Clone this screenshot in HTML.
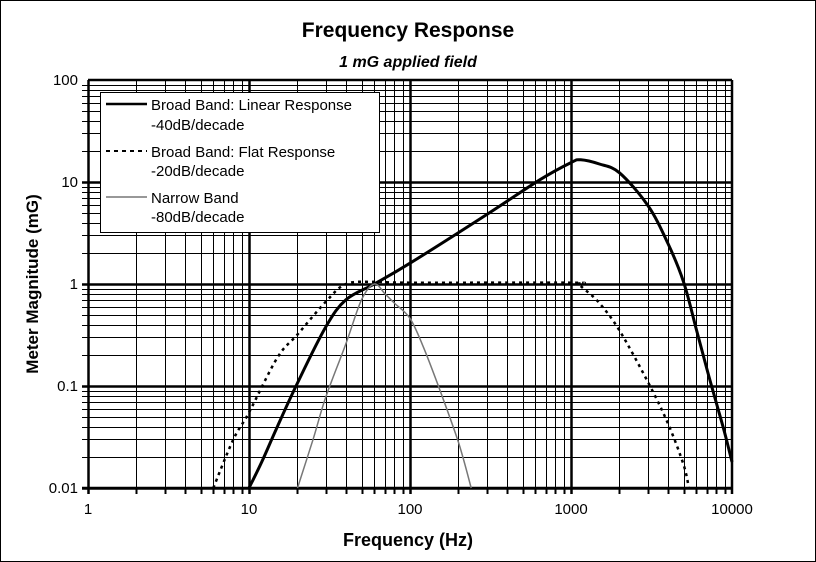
<!DOCTYPE html>
<html><head><meta charset="utf-8"><style>
body{margin:0;background:#fff}
svg{display:block;font-family:"Liberation Sans",Arial,sans-serif}
</style></head><body>
<svg id="chart" width="816" height="562" viewBox="0 0 816 562">
<rect x="0.5" y="0.5" width="815" height="561" fill="#fff" stroke="#000"/>
<text x="408" y="37" text-anchor="middle" font-size="21" font-weight="bold">Frequency Response</text>
<text x="408" y="67" text-anchor="middle" font-size="16" font-weight="bold" font-style="italic">1 mG applied field</text>
<g id="grid"></g>
<g id="ticks"></g>
<g id="series"></g>
<text x="408" y="546" text-anchor="middle" font-size="18" font-weight="bold">Frequency (Hz)</text>
<text transform="translate(38,284) rotate(-90)" text-anchor="middle" font-size="17" font-weight="bold">Meter Magnitude (mG)</text>
<g>
<rect x="100.5" y="92.5" width="279" height="140" fill="#fff" stroke="#000"/>
<line x1="106" y1="104" x2="147" y2="104" stroke="#000" stroke-width="2.5"/>
<text x="151" y="110" font-size="15">Broad Band: Linear Response</text>
<text x="151" y="130" font-size="15">-40dB/decade</text>
<line x1="106" y1="151" x2="147" y2="151" stroke="#000" stroke-width="2" stroke-dasharray="4,4"/>
<text x="151" y="157" font-size="15">Broad Band:  Flat Response</text>
<text x="151" y="176" font-size="15">-20dB/decade</text>
<line x1="106" y1="197" x2="147" y2="197" stroke="#777" stroke-width="1.5"/>
<text x="151" y="203" font-size="15">Narrow Band</text>
<text x="151" y="222" font-size="15">-80dB/decade</text>
</g>
</svg>
<script>
const xTicks=[1,10,100,1000,10000];
const xTickLabels=["1","10","100","1000","10000"];
const yTicks=[0.01,0.1,1,10,100];
const yTickLabels=["0.01","0.1","1","10","100"];
const linearFreq=[10,12,15,20,30,40,60,100,300,640,1000,1150,1500,2000,3000,4000,5000,6000,7000,8000,9000,10000];
const linearVal=[0.01,0.018,0.04,0.107,0.38,0.7,1.0,1.6,4.8,10.5,15.5,16.5,15,12.3,5.9,2.5,1.05,0.36,0.144,0.068,0.035,0.018];
const flatFreq=[6,8,10,15,20,30,40,60,100,1000,1100,1200,1500,2000,3000,4000,5000,5400];
const flatVal=[0.01,0.03,0.055,0.19,0.32,0.67,1.0,1.05,1.03,1.03,1.0,0.9,0.65,0.35,0.11,0.043,0.017,0.01];
const narrowFreq=[20,25,30,40,50,60,70,80,100,120,150,200,240];
const narrowVal=[0.01,0.03,0.078,0.26,0.7,1.0,0.8,0.65,0.46,0.25,0.1,0.028,0.01];

const X0=88,XD=161,Y0=284,YD=102;
const sx=v=>X0+Math.log10(v)*XD;
const sy=v=>Y0-Math.log10(v)*YD;
const NS="http://www.w3.org/2000/svg";
function mk(tag,attrs,parent){const e=document.createElementNS(NS,tag);for(const k in attrs)e.setAttribute(k,attrs[k]);parent.appendChild(e);return e;}
const grid=document.getElementById('grid'),ticks=document.getElementById('ticks'),series=document.getElementById('series');
const xmin=sx(1),xmax=sx(10000),ytop=sy(100),ybot=sy(0.01);
for(let d=0;d<4;d++){for(let m=1;m<=9;m++){const v=Math.pow(10,d)*m;const x=Math.round(sx(v))+0.5;
 const l=mk('line',{x1:x,y1:ytop,x2:x,y2:ybot,stroke:'#000','stroke-width':m===1?2.5:1},grid);
 }}
for(let d=-2;d<2;d++){for(let m=1;m<=9;m++){const v=Math.pow(10,d)*m;const y=Math.round(sy(v))+0.5;
 const l=mk('line',{x1:xmin-6,y1:y,x2:xmax,y2:y,stroke:'#000','stroke-width':m===1?2.5:1},grid);
 }}
const bl=mk('line',{x1:xmin,y1:ytop,x2:xmax,y2:ytop,stroke:'#000','stroke-width':2.5},grid);

const rl=mk('line',{x1:xmax,y1:ytop,x2:xmax,y2:ybot+6,stroke:'#000','stroke-width':2.5},grid);

const bb=mk('line',{x1:xmin-6,y1:ybot,x2:xmax,y2:ybot,stroke:'#000','stroke-width':2.5},grid);

xTicks.forEach((v,i)=>{const t=mk('text',{x:sx(v),y:ybot+26,'text-anchor':'middle','font-size':15},ticks);t.textContent=xTickLabels[i];
 
 for(let m=1;m<=9&&v<10000;m++){const x=Math.round(sx(v*m))+0.5;const tk=mk('line',{x1:x,y1:ybot,x2:x,y2:ybot+6,stroke:'#000','stroke-width':m===1?2.5:2},ticks);
 }});
yTicks.forEach((v,i)=>{const t=mk('text',{x:xmin-10,y:sy(v)+5,'text-anchor':'end','font-size':15},ticks);t.textContent=yTickLabels[i];
 });
function path(fs,vs){
 const p=fs.map((f,i)=>[sx(f),sy(vs[i])]);
 let d='M'+p[0][0].toFixed(1)+','+p[0][1].toFixed(1);
 for(let i=0;i<p.length-1;i++){
  const p0=p[i-1]||p[i],p1=p[i],p2=p[i+1],p3=p[i+2]||p[i+1];
  const c1=[p1[0]+(p2[0]-p0[0])/6,p1[1]+(p2[1]-p0[1])/6];
  const c2=[p2[0]-(p3[0]-p1[0])/6,p2[1]-(p3[1]-p1[1])/6];
  d+=' C'+c1.map(n=>n.toFixed(1)).join(',')+' '+c2.map(n=>n.toFixed(1)).join(',')+' '+p2.map(n=>n.toFixed(1)).join(',');
 }
 return d;}
const p1=mk('path',{d:path(linearFreq,linearVal),fill:'none',stroke:'#000','stroke-width':3,'stroke-linejoin':'round'},series);

const p2=mk('path',{d:path(flatFreq,flatVal),fill:'none',stroke:'#000','stroke-width':2.5,'stroke-dasharray':'3,4'},series);

const p3=mk('path',{d:path(narrowFreq,narrowVal),fill:'none',stroke:'#777','stroke-width':1.5},series);

</script>
</body></html>
